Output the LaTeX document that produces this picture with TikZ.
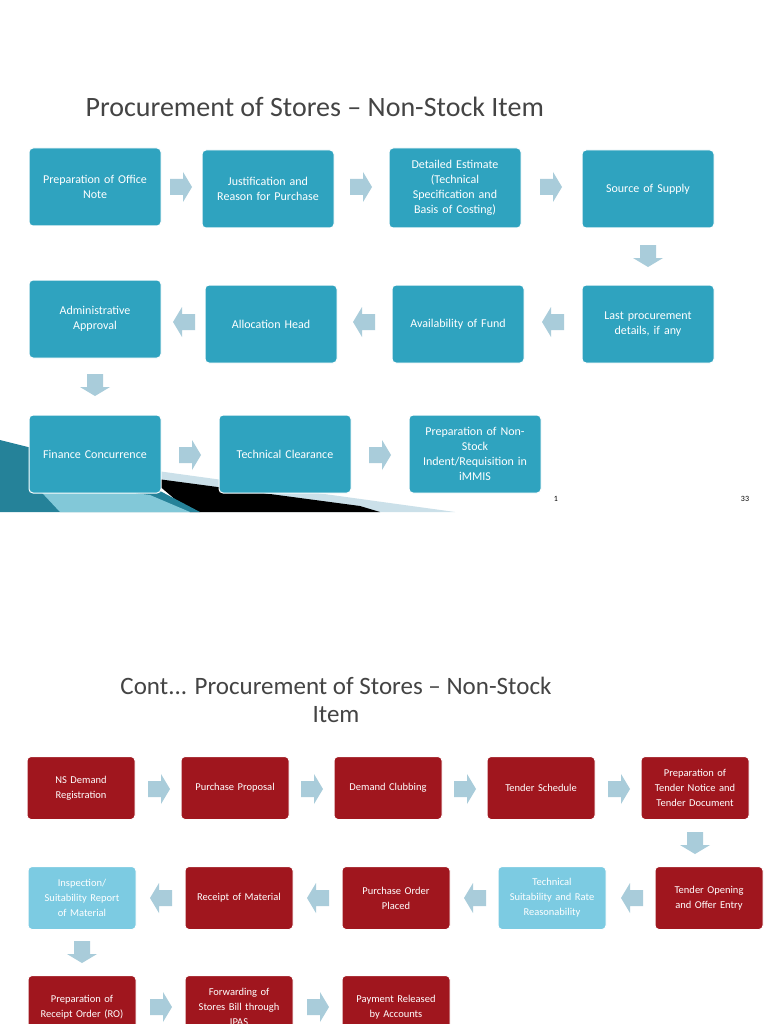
\documentclass[tikz,border=0pt]{standalone}
\usepackage{fontspec}
\setmainfont{Carlito}
\definecolor{teal1}{HTML}{2FA3BF}
\definecolor{red1}{HTML}{A0161E}
\definecolor{lb}{HTML}{7CCBE2}
\definecolor{arr}{HTML}{A9CCDA}
\definecolor{titlec}{HTML}{444444}
\tikzset{
 tbox/.style={draw=white,line width=1pt,fill=teal1,rounded corners=4pt,text=white,align=center,font=\fontsize{12}{15}\selectfont,minimum width=132pt,minimum height=78pt,text width=126pt,inner sep=2pt},
 rbox/.style={draw=white,line width=1pt,fill=red1,rounded corners=4pt,text=white,align=center,font=\fontsize{10.5}{15}\selectfont,minimum width=107pt,minimum height=63pt,text width=104pt,inner sep=2pt},
 lbox/.style={rbox,fill=lb},
 barrow/.pic={\fill[arr] (-11,-8) -- (2,-8) -- (2,-15) -- (11,0) -- (2,15) -- (2,8) -- (-11,8) -- cycle;},
}
\begin{document}
\begin{tikzpicture}[x=1pt,y=-1pt]
\useasboundingbox (0,0) rectangle (768,1024);
\clip (0,0) rectangle (768,1024);
\hyphenpenalty=10000
\fill[white] (0,0) rectangle (768,1024);
% swoosh
\fill[arr!60] (150,470) -- (455,512) -- (190,512) -- cycle;
\fill[black] (150,478) -- (360,506) -- (380,512) -- (190,512) -- cycle;
\fill[teal1!80!black] (0,440) -- (120,470) -- (200,512) -- (0,512) -- cycle;
\fill[teal1!60] (30,480) -- (150,495) -- (190,512) -- (60,512) -- cycle;
\node[anchor=west,font=\fontsize{28}{30}\selectfont,text=titlec] (t1) at (82,107) {Procurement of Stores – Non-Stock Item};
\node[tbox] (a) at (95,187) {Preparation of Office\\Note};
\node[tbox] (b) at (268,189) {Justification and\\Reason for Purchase};
\node[tbox,minimum height=80pt] (c) at (455,188) {Detailed Estimate\\(Technical\\Specification and\\Basis of Costing)};
\node[tbox] (d) at (648,189) {Source of Supply};
\node[tbox] (e) at (95,319) {Administrative\\Approval\\[12pt]};
\node[tbox] (f) at (271,324) {Allocation Head};
\node[tbox] (g) at (458,324) {Availability of Fund};
\node[tbox] (h) at (648,324) {Last procurement\\details, if any};
\node[tbox] (i) at (95,454) {Finance Concurrence};
\node[tbox] (j) at (285,454) {Technical Clearance};
\node[tbox] (k) at (475,454) {Preparation of Non-\\Stock\\Indent/Requisition in\\iMMIS};
\pic (ab) at (181,187) {barrow};
\pic (bc) at (361,187) {barrow};
\pic (cd) at (551,187) {barrow};
\pic[rotate=-90] (dh) at (648,256) {barrow};
\pic[rotate=180] (hg) at (553,322) {barrow};
\pic[rotate=180] (gf) at (364,322) {barrow};
\pic[rotate=180] (fe) at (184,322) {barrow};
\pic[rotate=-90] (ei) at (95,385) {barrow};
\pic (ij) at (190,455) {barrow};
\pic (jk) at (380,455) {barrow};
\node[font=\fontsize{8}{9}\selectfont] (p1) at (556,499) {1};
\node[font=\fontsize{8}{9}\selectfont] (p2) at (745,499) {33};
% slide 2
\node[align=center,font=\fontsize{25}{28}\selectfont,text=titlec] (t2) at (336,700) {Cont... Procurement of Stores – Non-Stock\\Item};
\node[rbox] (r1) at (81,788) {NS Demand\\Registration};
\node[rbox] (r2) at (235,788) {Purchase Proposal};
\node[rbox] (r3) at (388,788) {Demand Clubbing};
\node[rbox] (r4) at (541,788) {Tender Schedule};
\node[rbox] (r5) at (695,788) {Preparation of\\Tender Notice and\\Tender Document};
\pic (a1) at (159,789) {barrow};
\pic (a2) at (312,789) {barrow};
\pic (a3) at (465,789) {barrow};
\pic (a4) at (619,789) {barrow};
\pic[rotate=-90] (a5) at (695,843) {barrow};
\node[lbox] (s1) at (82,898) {Inspection/\\Suitability Report\\of Material};
\node[rbox] (s2) at (239,898) {Receipt of Material};
\node[rbox] (s3) at (396,898) {Purchase Order\\Placed};
\node[lbox] (s4) at (552,898) {Technical\\Suitability and Rate\\Reasonability};
\node[rbox] (s5) at (709,898) {Tender Opening\\and Offer Entry};
\pic[rotate=180] (b1) at (632,898) {barrow};
\pic[rotate=180] (b2) at (475,898) {barrow};
\pic[rotate=180] (b3) at (318,898) {barrow};
\pic[rotate=180] (b4) at (161,898) {barrow};
\pic[rotate=-90] (b5) at (82,952) {barrow};
\node[rbox] (u1) at (82,1007) {Preparation of\\Receipt Order (RO)};
\node[rbox] (u2) at (239,1007) {Forwarding of\\Stores Bill through\\IPAS};
\node[rbox] (u3) at (396,1007) {Payment Released\\by Accounts};
\pic (c1) at (161,1007) {barrow};
\pic (c2) at (318,1007) {barrow};
\end{tikzpicture}
\end{document}
